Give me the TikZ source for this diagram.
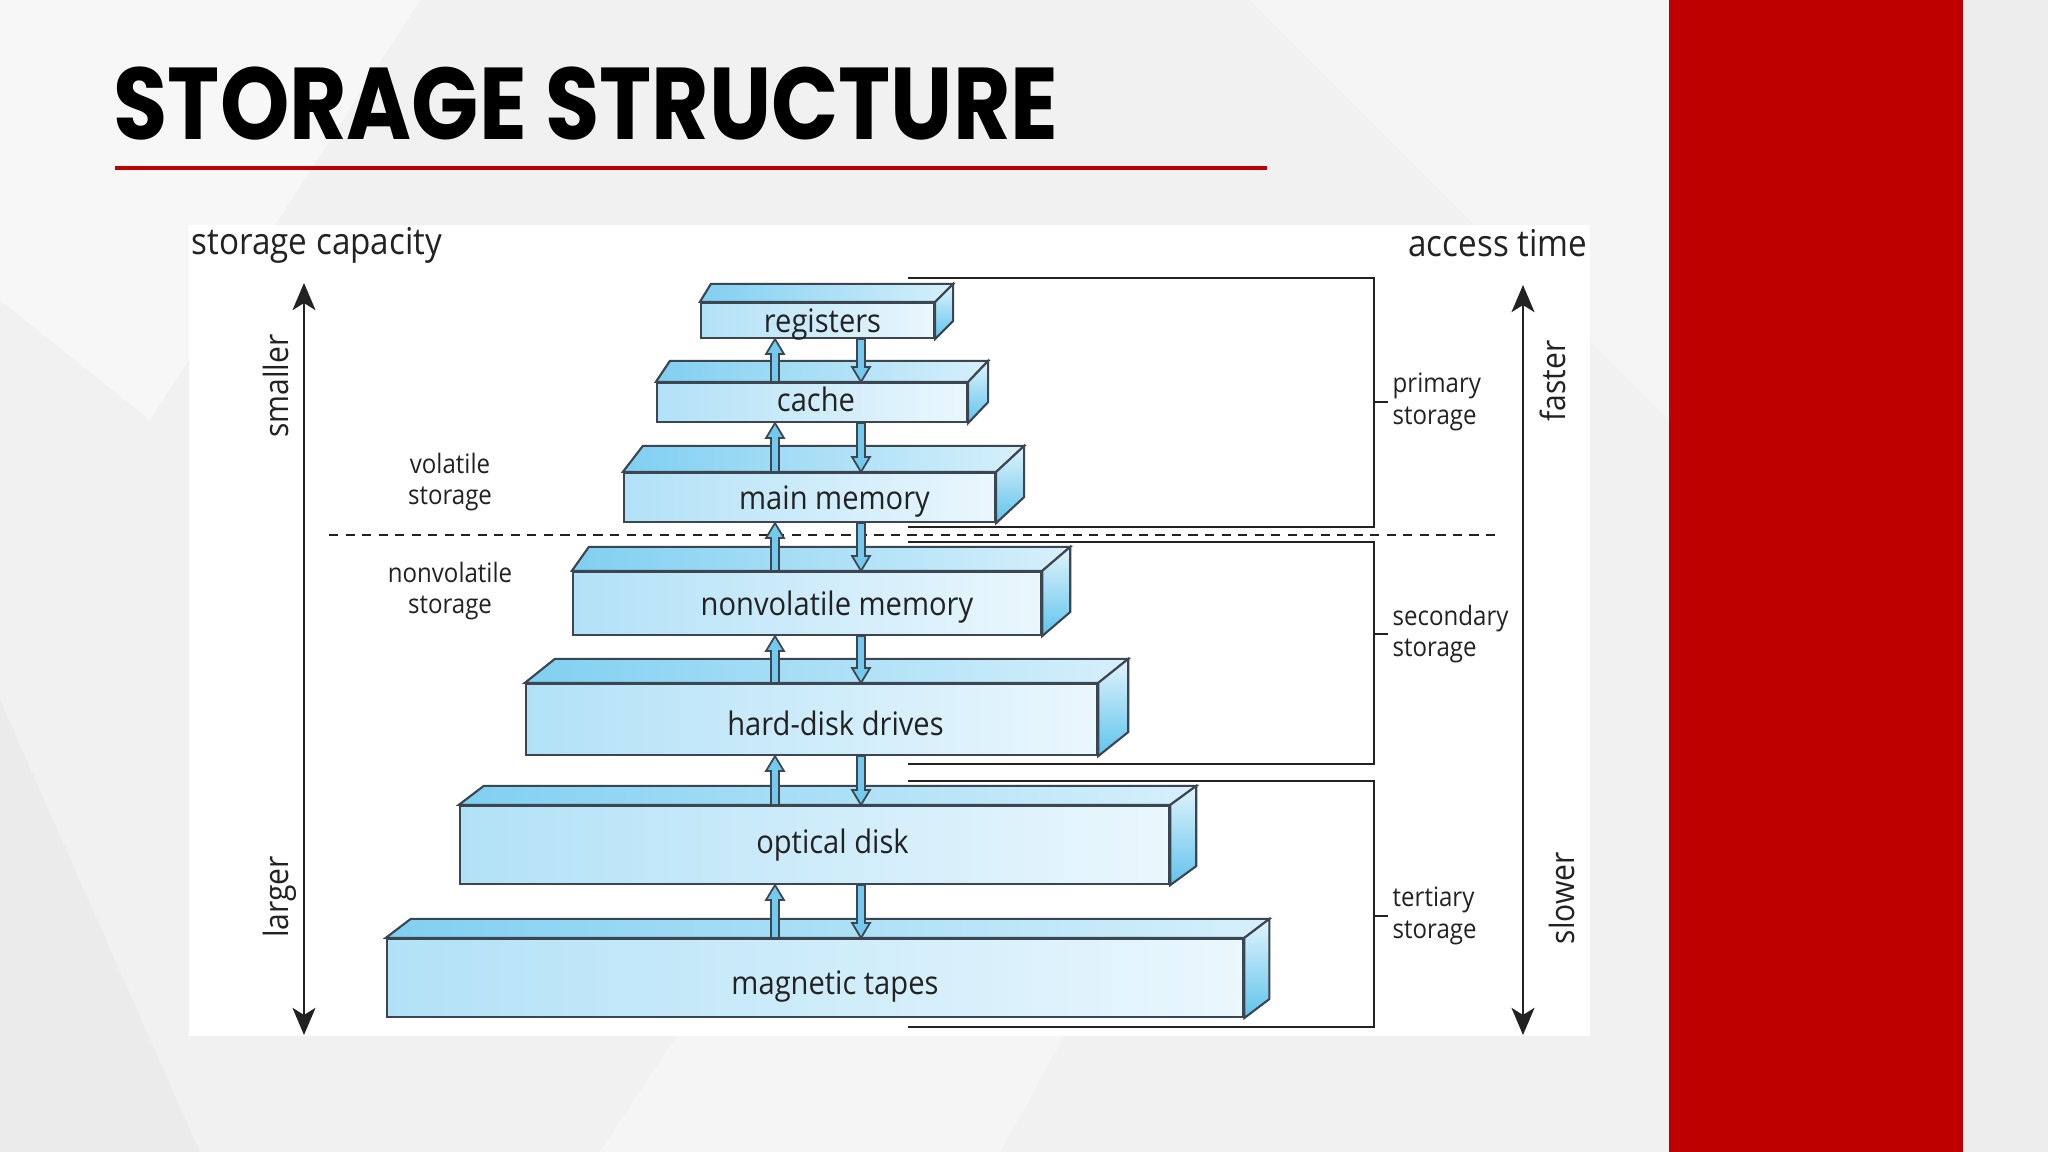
\documentclass[tikz,border=0pt]{standalone}
\usepackage{fontspec}
\newfontfamily\titlefont{Poppins}[FakeStretch=0.865]
\newfontfamily\labelfont{Open Sans}[FakeStretch=0.9]
\usetikzlibrary{calc,arrows.meta}

\definecolor{slidebg}{HTML}{F1F1F1}
\definecolor{slidered}{HTML}{BE0000}
\definecolor{edgegray}{HTML}{3B4650}
\definecolor{inkgray}{HTML}{222222}
\definecolor{frontL}{HTML}{B2E1F7}
\definecolor{frontR}{HTML}{EAF7FD}
\definecolor{topL}{HTML}{80CFF1}
\definecolor{topR}{HTML}{D6F0FB}
\definecolor{sideT}{HTML}{E2F4FC}
\definecolor{sideB}{HTML}{5FC3EC}
\definecolor{flowblue}{HTML}{74C9EF}

\tikzset{
  slab/.style={draw=edgegray, line width=0.6pt, left color=frontL, right color=frontR, inner sep=0pt},
  slabtext/.style={text=inkgray, font=\labelfont\fontsize{9.2}{11}\selectfont, inner sep=0pt},
  topface/.style={draw=edgegray, line width=0.6pt, left color=topL, right color=topR},
  sideface/.style={draw=edgegray, line width=0.6pt, top color=sideT, bottom color=sideB},
  flow/.style={draw=edgegray, line width=0.5pt, fill=flowblue},
  bracket/.style={line width=0.8pt, inkgray},
  axis/.style={line width=0.8pt, inkgray, {Stealth[length=7.7pt,width=6.5pt,inset=2pt]}-{Stealth[length=7.7pt,width=6.5pt,inset=2pt]}},
  split/.style={line width=0.7pt, inkgray, dash pattern=on 2.6pt off 2.1pt},
  tier/.style={font=\labelfont\fontsize{7.6}{9}\selectfont, align=left, anchor=west, text=inkgray, inner sep=0pt},
  side/.style={font=\labelfont\fontsize{7.6}{9}\selectfont, align=center, text=inkgray},
  heading/.style={font=\labelfont\fontsize{10.5}{12}\selectfont, text=inkgray, inner sep=0pt},
  trend/.style={font=\labelfont\fontsize{9.5}{11}\selectfont, rotate=90, anchor=base, text=inkgray, inner sep=0pt},
}

% top and right faces of a slab: node, left shift, right shift, depth
\newcommand\slabfaces[4]{%
  \filldraw[topface] (#1.north west) -- ++(#2,-#4) -- ($(#1.north east)+(#3,-#4)$) -- (#1.north east) -- cycle;
  \filldraw[sideface] (#1.north east) -- ++(#3,-#4) -- ($(#1.south east)+(#3,-#4)$) -- (#1.south east) -- cycle;}
% block arrows between two slabs
\newcommand\flowup[2]{%
  \path (#1.north -| upx) coordinate (fa) (#2.south -| upx) coordinate (fb);
  \filldraw[flow] ($(fa)+(-4,0)$) -- ($(fb)+(-4,15)$) -- ($(fb)+(-9,15)$) -- (fb)
    -- ($(fb)+(9,15)$) -- ($(fb)+(4,15)$) -- ($(fa)+(4,0)$) -- cycle;}
\newcommand\flowdown[2]{%
  \path (#1.south -| downx) coordinate (fa) (#2.north -| downx) coordinate (fb);
  \filldraw[flow] ($(fa)+(-4,0)$) -- ($(fb)+(-4,-15)$) -- ($(fb)+(-9,-15)$) -- (fb)
    -- ($(fb)+(9,-15)$) -- ($(fb)+(4,-15)$) -- ($(fa)+(4,0)$) -- cycle;}

\begin{document}
\begin{tikzpicture}[x=0.01cm, y=-0.01cm]
    \useasboundingbox (0,0) rectangle (2048,1152);
    % slide background
    \fill[slidebg] (0,0) rectangle (2048,1152);
    \fill[white, opacity=0.45] (0,0) -- (420,0) -- (150,420) -- (0,300) -- cycle;
    \fill[white, opacity=0.35] (600,1152) -- (900,700) -- (1250,700) -- (1000,1152) -- cycle;
    \fill[white, opacity=0.3] (1250,0) -- (1669,0) -- (1669,420) -- cycle;
    \fill[black, opacity=0.025] (0,700) -- (200,1152) -- (0,1152) -- cycle;
    \fill[slidered] (1669,0) rectangle (1963,1152);
    \fill[black!7] (1963,0) rectangle (2048,1152);

    % title
    \node[anchor=base west, inner sep=0pt, font=\titlefont\bfseries\fontsize{29}{34}\selectfont] (title) at (113,140) {STORAGE STRUCTURE};
    \draw[slidered, line width=1.4pt] (115,168) -- (1267,168);

    % diagram panel
    \fill[white] (189,225) rectangle (1590,1036);
    \node[heading, anchor=base west] (capacity) at (191,255) {storage capacity};
    \node[heading, anchor=base east] (access) at (1588,257) {access time};

    % slabs
    \node[slab, minimum width=2.33cm, minimum height=0.35cm] (reg) at (817.5,320.5) {};
    \node[slab, minimum width=3.10cm, minimum height=0.39cm] (cache) at (812,402.5) {};
    \node[slab, minimum width=3.71cm, minimum height=0.49cm] (mm) at (809.5,497.5) {};
    \node[slab, minimum width=4.68cm, minimum height=0.63cm] (nvm) at (807,603.5) {};
    \node[slab, minimum width=5.71cm, minimum height=0.71cm] (hdd) at (811.5,719.5) {};
    \node[slab, minimum width=7.09cm, minimum height=0.78cm] (opt) at (814.5,845) {};
    \node[slab, minimum width=8.56cm, minimum height=0.78cm] (tape) at (815,978) {};
    \foreach \n/\l/\r/\d in {reg/11/18/18, cache/14/20/21, mm/20/28/26, nvm/17/28/24,
                             hdd/30/30/24, opt/25/26/19, tape/25/25/19}
        \slabfaces{\n}{\l}{\r}{\d};
    \foreach \n/\dx/\dy/\txt in {reg/5/4/registers, cache/4/-3/cache, mm/25/4/main memory,
                             nvm/30/4/nonvolatile memory, hdd/24/4/hard-disk drives,
                             opt/18/0/optical disk, tape/20/9/magnetic tapes}
        \node[slabtext, xshift=\dx*0.01cm, yshift=-\dy*0.01cm] (\n-text) at (\n.center) {\txt};

    % volatile / nonvolatile split
    \draw[split] (329,535) -- (1497,535);
    \node[side] (volatile) at (450,482) {volatile\\storage};
    \node[side] (nonvolatile) at (450,591) {nonvolatile\\storage};

    % transfers
    \coordinate (upx) at (775,0);
    \coordinate (downx) at (861,0);
    \foreach \lo/\hi in {cache/reg, mm/cache, nvm/mm, hdd/nvm, opt/hdd, tape/opt} {
        \flowup{\lo}{\hi}
        \flowdown{\hi}{\lo}
    }

    % storage tiers
    \foreach \top/\bot/\tick/\tiername in {278/527/402/primary, 542/764/634/secondary, 781/1027/916/tertiary} {
        \draw[bracket] (908,\top) -| (1374,\bot) -- (908,\bot);
        \draw[bracket] (1374,\tick) -- (1388,\tick);
        \node[tier] (\tiername) at (1392,\tick) {\tiername\\storage};
    }

    % capacity and access time axes
    \coordinate (captop) at (304,283);
    \coordinate (capbot) at (304,1035);
    \draw[axis] (capbot) -- (captop);
    \node[trend] (smaller) at (288,386) {smaller};
    \node[trend] (larger) at (288,897) {larger};
    \coordinate (timetop) at (1523,285);
    \coordinate (timebot) at (1523,1035);
    \draw[axis] (timebot) -- (timetop);
    \node[trend] (faster) at (1565,381) {faster};
    \node[trend] (slower) at (1574,898) {slower};
\end{tikzpicture}
\end{document}
